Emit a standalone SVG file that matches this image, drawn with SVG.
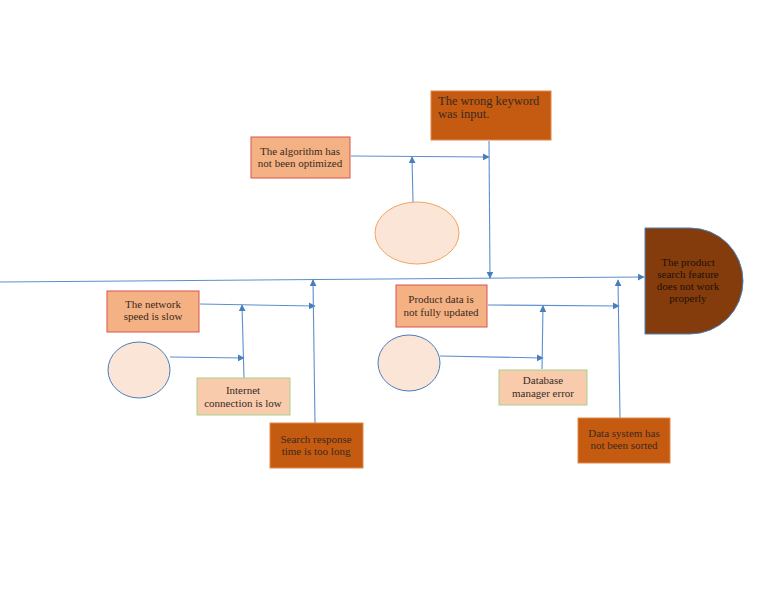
<svg xmlns="http://www.w3.org/2000/svg" width="768" height="594" viewBox="0 0 768 594">
<defs>
<marker id="arr" viewBox="0 0 10 10" refX="9" refY="5" markerWidth="7" markerHeight="7" orient="auto" markerUnits="userSpaceOnUse">
<path d="M0,0 L10,5 L0,10 z" fill="#4a7ebb"/>
</marker>
<style>
.ln{stroke:#5b8fd0;stroke-width:1.1;fill:none}
.ar{marker-end:url(#arr)}
.t{font-family:"Liberation Serif","DejaVu Serif",serif;font-size:11px;fill:#3a2a20;text-anchor:middle}
.dark{fill:#c55a11;stroke:#e0884a;stroke-width:1}
.mid{fill:#f4b183;stroke:#d9534f;stroke-width:1}
.light{fill:#f8cbad;stroke:#a9d18e;stroke-width:1}
.circ{fill:#fbe5d6}
</style>
</defs>
<rect width="768" height="594" fill="#ffffff"/>
<g id="connectors">
<line class="ln ar" x1="0" y1="282" x2="644" y2="277"/>
<line class="ln ar" x1="351" y1="156" x2="489" y2="157"/>
<line class="ln ar" x1="489" y1="141" x2="490" y2="278"/>
<line class="ln ar" x1="413" y1="202" x2="412" y2="157"/>
<line class="ln ar" x1="200" y1="304" x2="315" y2="306"/>
<line class="ln ar" x1="170" y1="357" x2="244" y2="358"/>
<line class="ln ar" x1="244" y1="378" x2="242" y2="305"/>
<line class="ln ar" x1="315" y1="423" x2="313" y2="280"/>
<line class="ln ar" x1="488" y1="305" x2="619" y2="306"/>
<line class="ln ar" x1="440" y1="356" x2="543" y2="358"/>
<line class="ln ar" x1="542" y1="369" x2="543" y2="306"/>
<line class="ln ar" x1="620" y1="418" x2="618" y2="280"/>
</g>
<g id="head">
<path d="M645,228 L690,228 A53,53 0 0 1 690,334 L645,334 Z" fill="#843c0c" stroke="#4a7ebb" stroke-width="1"/>
<text class="t" x="688" y="266" style="fill:#1e1008">The product</text>
<text class="t" x="688" y="278" style="fill:#1e1008">search feature</text>
<text class="t" x="688" y="290" style="fill:#1e1008">does not work</text>
<text class="t" x="688" y="302" style="fill:#1e1008">properly</text>
</g>
<g id="wrong-keyword">
<rect class="dark" x="431" y="91" width="120" height="49"/>
<text class="t" x="438" y="105" style="text-anchor:start;font-size:12.5px">The wrong keyword</text>
<text class="t" x="438" y="118" style="text-anchor:start;font-size:12.5px">was input.</text>
</g>
<g id="algorithm">
<rect class="mid" x="251" y="137" width="99" height="41"/>
<text class="t" x="300" y="155">The algorithm has</text>
<text class="t" x="300" y="167">not been optimized</text>
</g>
<g id="ellipse-top">
<ellipse class="circ" cx="417" cy="233" rx="42" ry="31" stroke="#f4a460" stroke-width="1"/>
</g>
<g id="network-speed">
<rect class="mid" x="107" y="291" width="92" height="41"/>
<text class="t" x="153" y="308">The network</text>
<text class="t" x="153" y="320">speed is slow</text>
</g>
<g id="circle-left">
<ellipse class="circ" cx="139" cy="370" rx="31" ry="28" stroke="#4a7ebb" stroke-width="1"/>
</g>
<g id="internet">
<rect class="light" x="197" y="378" width="93" height="37"/>
<text class="t" x="243" y="394">Internet</text>
<text class="t" x="243" y="407">connection is low</text>
</g>
<g id="search-response">
<rect class="dark" x="270" y="423" width="93" height="45"/>
<text class="t" x="316" y="443">Search response</text>
<text class="t" x="316" y="455">time is too long</text>
</g>
<g id="product-data">
<rect class="mid" x="396" y="285" width="91" height="42"/>
<text class="t" x="441" y="303">Product data is</text>
<text class="t" x="441" y="316">not fully updated</text>
</g>
<g id="circle-mid">
<ellipse class="circ" cx="409" cy="363" rx="31" ry="28" stroke="#4a7ebb" stroke-width="1"/>
</g>
<g id="database">
<rect class="light" x="499" y="370" width="88" height="35"/>
<text class="t" x="543" y="384">Database</text>
<text class="t" x="543" y="397">manager error</text>
</g>
<g id="data-system">
<rect class="dark" x="578" y="418" width="92" height="45"/>
<text class="t" x="624" y="437">Data system has</text>
<text class="t" x="624" y="449">not been sorted</text>
</g>
</svg>
